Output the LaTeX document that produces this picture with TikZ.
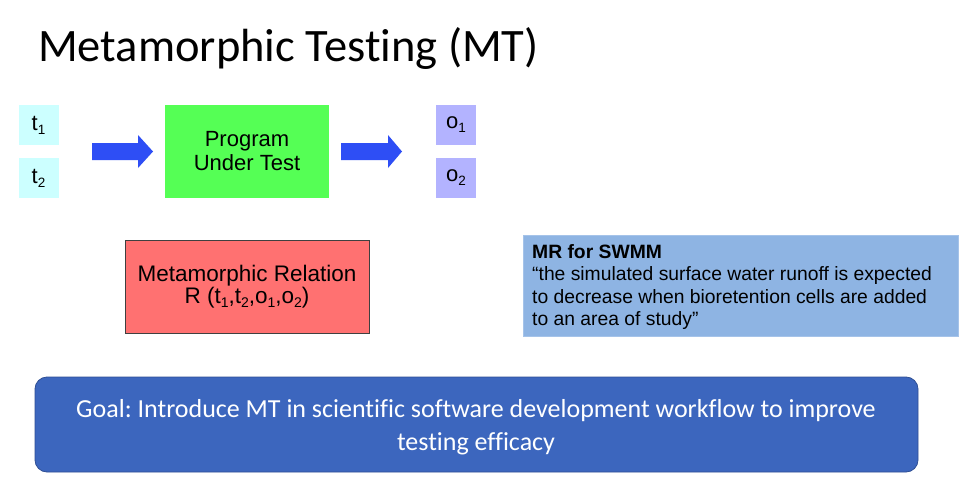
\documentclass[tikz,border=0pt]{standalone}
\usepackage{fontspec}
\setmainfont{Liberation Sans}
\newfontfamily\calib[Ligatures=NoCommon]{Carlito}
\frenchspacing
\definecolor{tbox}{HTML}{CCFFFF}
\definecolor{obox}{HTML}{B3B3FF}
\definecolor{pgreen}{HTML}{55FF55}
\definecolor{mrred}{HTML}{FF7171}
\definecolor{swblue}{HTML}{8EB4E3}
\definecolor{goalblue}{HTML}{3C66BE}
\definecolor{goalborder}{HTML}{2F4F94}
\definecolor{arrowblue}{HTML}{2E4EF5}
\newcommand\lo[2]{\raisebox{-4pt}{\fontsize{#1}{#1}\selectfont #2}}
\tikzset{
  smallbox/.style={minimum width=40pt, minimum height=40pt, inner sep=0pt, font=\fontsize{22}{24}\selectfont},
  blockarrow/.style={fill=arrowblue, draw=none},
}
\begin{document}
\begin{tikzpicture}[x=1pt,y=-1pt]
\useasboundingbox[fill=white] (0,0) rectangle (976,492);
\node[anchor=base west, inner sep=0pt, font=\calib\fontsize{46.5}{50}\selectfont] (title) at (38,62) {Metamorphic Testing (MT)};

\node[smallbox, fill=tbox] (t1) at (38.5,125) {t\lo{13.5}{1}};
\node[smallbox, fill=tbox] (t2) at (38.5,178) {t\lo{13.5}{2}};
\node[minimum width=164pt, minimum height=93pt, fill=pgreen, inner sep=0pt, align=center, font=\fontsize{22}{24}\selectfont] (put) at (247,151.5) {Program\\Under Test};
\node[smallbox, fill=obox] (o1) at (456,125) {o\lo{13.5}{1}};
\node[smallbox, fill=obox] (o2) at (456,178) {o\lo{13.5}{2}};

% block arrows
\coordinate (a1s) at (92,151.5);
\coordinate (a1e) at (153,151.5);
\coordinate (a2s) at (341,151.5);
\coordinate (a2e) at (402,151.5);
\fill[blockarrow] (a1s) ++(0,-8.5) -- ++(46,0) -- ++(0,-8) -- (a1e) -- ++(-15,16.5) -- ++(0,-8) -- ++(-46,0) -- cycle;
\fill[blockarrow] (a2s) ++(0,-8.5) -- ++(47,0) -- ++(0,-8) -- (a2e) -- ++(-14,16.5) -- ++(0,-8) -- ++(-47,0) -- cycle;

\node[minimum width=244pt, minimum height=93pt, fill=mrred, draw=black!75, line width=0.8pt, inner sep=0pt, align=center, font=\fontsize{22.5}{20}\selectfont] (mr) at (247,286.5) {Metamorphic Relation\\[0pt]R (t\lo{14}{1},t\lo{14}{2},o\lo{14}{1},o\lo{14}{2})};

\node[minimum width=435pt, minimum height=101pt, fill=swblue, draw=swblue!80!white, inner sep=0pt] (sw) at (740.5,285.5) {};
\node[anchor=north west, align=left, inner sep=0pt, font=\fontsize{19.3}{22.5}\selectfont] (swtext) at (532,244.3) {\textbf{MR for SWMM}\\“the simulated surface water runoff is expected\\to decrease when bioretention cells are added\\to an area of study”};

\node[minimum width=883pt, minimum height=95pt, rounded corners=12pt, fill=goalblue, draw=goalborder, line width=0.8pt, inner sep=0pt] (goal) at (476.5,424.5) {};
\node[text=white, align=center, inner sep=0pt, font=\calib\fontsize{26}{33}\selectfont] (goaltext) at (476,427) {Goal: Introduce MT in scientific software development workflow to improve\\testing efficacy};
\end{tikzpicture}
\end{document}
